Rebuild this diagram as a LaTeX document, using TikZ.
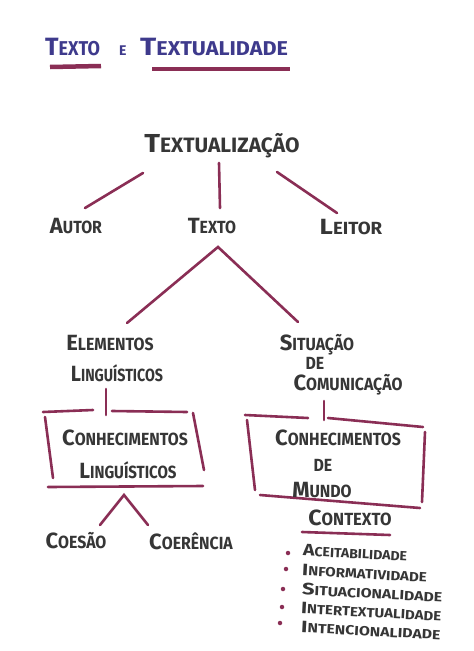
\documentclass[tikz,border=0pt]{standalone}
\usepackage{fontspec}
\setmainfont{Fira Sans}
\usepackage{graphicx}
\definecolor{ink}{HTML}{363636}
\definecolor{titleink}{HTML}{3E3A8C}
\definecolor{wine}{HTML}{8A2E55}
\newcommand\sm[1]{\scalebox{0.72}[0.8]{#1}}
\newcommand\hs[2]{\scalebox{#1}[1]{#2}}
\tikzset{
  lbl/.style={text=ink, inner sep=0pt, font=\bfseries\fontsize{22}{22}\selectfont},
  bigl/.style={text=ink, inner sep=0pt, font=\bfseries\fontsize{26}{26}\selectfont},
  ttl/.style={text=titleink, inner sep=0pt, font=\bfseries\fontsize{25}{25}\selectfont},
  item/.style={text=ink, inner sep=0pt, anchor=west, rotate=-3, font=\bfseries\fontsize{16.5}{17}\selectfont},
  link/.style={draw=wine, line width=2.6pt, line cap=round},
  uline/.style={draw=wine, line width=4.5pt},
  dot/.style={fill=wine, circle, inner sep=0pt, minimum size=4.5pt}
}
\begin{document}
\begin{tikzpicture}[x=1pt,y=-1pt]
\useasboundingbox[fill=white] (0,0) rectangle (474,651);
% title
\node[ttl, anchor=base west] (t1) at (45,55) {T\sm{EXTO}};
\node[ttl, anchor=base west, font=\bfseries\fontsize{14}{14}\selectfont] (t2) at (119,55) {E};
\node[ttl, anchor=base west] (t3) at (140,55) {\hs{1.2}{T\sm{EXTUALIDADE}}};
\coordinate (u1a) at (50,67); \coordinate (u1b) at (101,66);
\coordinate (u2a) at (152,69); \coordinate (u2b) at (290,69);
\draw[uline] (u1a) -- (u1b);
\draw[uline] (u2a) -- (u2b);
% level 1
\node[bigl] (tz) at (222,146) {\hs{1.12}{T\sm{EXTUALIZAÇÃO}}};
\node[lbl] (autor) at (76,226) {A\sm{UTOR}};
\node[lbl] (texto) at (212,226) {T\sm{EXTO}};
\node[lbl] (leitor) at (351,227) {\hs{1.18}{L\sm{EITOR}}};
\coordinate (c1) at (143,173); \coordinate (c2) at (85,208);
\coordinate (c3) at (219,163); \coordinate (c4) at (220,208);
\coordinate (c5) at (277,172); \coordinate (c6) at (337,213);
\draw[link] (c1) -- (c2);
\draw[link] (c3) -- (c4);
\draw[link] (c5) -- (c6);
% texto branches
\coordinate (tb) at (218,247);
\coordinate (tl) at (127,323);
\coordinate (tr) at (298,322);
\draw[link] (tl) -- (tb) -- (tr);
% left branch
\node[lbl] (el1) at (110,343) {E\sm{LEMENTOS}};
\node[lbl] (el2) at (117,373) {\hs{0.9}{L\sm{INGUÍSTICOS}}};
\coordinate (v1a) at (106,389); \coordinate (v1b) at (106,415);
\draw[link] (v1a) -- (v1b);
\draw[link] (43,412) -- (93,410);
\draw[link] (112,411) -- (187,412);
\draw[link] (45,417) -- (53,478);
\draw[link] (193,413) -- (204,470);
\draw[link] (48,487) -- (203,486);
\node[lbl] (ck1) at (125,438) {C\sm{ONHECIMENTOS}};
\node[lbl] (ck2) at (128,470) {\hs{0.95}{L\sm{INGUÍSTICOS}}};
\coordinate (ca) at (124,495); \coordinate (cl) at (100,525); \coordinate (cr) at (148,525);
\draw[link] (cl) -- (ca) -- (cr);
\node[lbl] (coesao) at (76,541) {C\sm{OESÃO}};
\node[lbl] (coer) at (191,541) {C\sm{OERÊNCIA}};
% right branch
\node[lbl] (s1) at (317,345) {S\sm{ITUAÇÃO}};
\node[lbl] (s2) at (315,363) {\sm{DE}};
\node[lbl] (s3) at (348,385) {C\sm{OMUNICAÇÃO}};
\coordinate (v2a) at (324,401); \coordinate (v2b) at (324,420);
\draw[link] (v2a) -- (v2b);
\draw[link] (245,415) -- (308,418);
\draw[link] (328,418) -- (423,427);
\draw[link] (247,420) -- (255,490);
\draw[link] (425,432) -- (422,502);
\draw[link] (260,495) -- (420,508);
\node[lbl] (cm1) at (338,438) {C\sm{ONHECIMENTOS}};
\node[lbl] (cm2) at (323,465) {\sm{DE}};
\node[lbl] (cm3) at (322,490) {M\sm{UNDO}};
\node[lbl] (ctx) at (350,518) {\hs{1.05}{C\sm{ONTEXTO}}};
\draw[link] (302,532) -- (390,535);
% list
\node[dot] (d1) at (288,553) {};
\node[dot] (d2) at (286,569) {};
\node[dot] (d3) at (283,589) {};
\node[dot] (d4) at (282,607) {};
\node[dot] (d5) at (280,623) {};
\node[item] (i1) at (303,550) {\hs{1.18}{A\sm{CEITABILIDADE}}};
\node[item] (i2) at (302,570) {\hs{1.27}{I\sm{NFORMATIVIDADE}}};
\node[item] (i3) at (302,589) {\hs{1.33}{S\sm{ITUACIONALIDADE}}};
\node[item] (i4) at (301,608) {\hs{1.26}{I\sm{NTERTEXTUALIDADE}}};
\node[item] (i5) at (301,627) {\hs{1.33}{I\sm{NTENCIONALIDADE}}};
\end{tikzpicture}
\end{document}
